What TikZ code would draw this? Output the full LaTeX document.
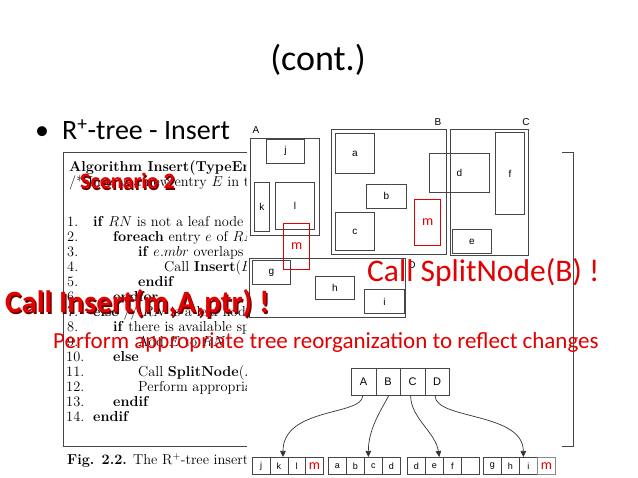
\documentclass[tikz,border=0pt]{standalone}
\usepackage{fontspec}
\newfontfamily\slidefont{Carlito}
\newfontfamily\diafont{Liberation Sans}
\usetikzlibrary{arrows.meta}
\definecolor{slidered}{RGB}{226,0,0}
\definecolor{shadowred}{RGB}{110,0,0}
\definecolor{linegray}{RGB}{70,70,70}
\tikzset{
  sbox/.style={draw=linegray, line width=0.8pt, inner sep=0pt, font=\diafont\fontsize{10}{10}\selectfont},
  mbox/.style={draw=slidered, line width=1.2pt, inner sep=0pt, text=slidered, font=\slidefont\fontsize{14}{14}\selectfont},
  dlabel/.style={inner sep=0pt, font=\diafont\fontsize{10}{10}\selectfont},
  rootcell/.style={draw=linegray, line width=0.8pt, inner sep=0pt, anchor=north west, minimum width=24.5pt, minimum height=27pt, font=\diafont\fontsize{11}{11}\selectfont},
  leafcell/.style={draw=linegray, line width=0.7pt, inner sep=0pt, anchor=north west, minimum width=18pt, minimum height=17pt, font=\diafont\fontsize{9}{9}\selectfont},
  redcell/.style={leafcell, text=slidered, font=\slidefont\fontsize{14}{14}\selectfont},
  algo/.style={anchor=base west, inner sep=0pt, font=\fontsize{14.4}{15}\selectfont},
  treearrow/.style={draw=black!80, line width=0.7pt, -{Triangle[length=6pt,width=5.5pt]}},
  redtext/.style={anchor=base west, inner sep=0pt, text=slidered},
  shadowtext/.style={anchor=base west, inner sep=0pt, text=shadowred},
}
\newcommand\rbox[7][sbox]{\node[#1,anchor=north west,minimum width={(#5-#3)*1pt},minimum height={(#6-#4)*1pt}] (#2) at (#3,#4) {#7};}
\begin{document}
\begin{tikzpicture}[x=1pt,y=-1pt]
\path[use as bounding box, fill=white] (0,0) rectangle (638,478);

% title and bullet
\node[anchor=base, inner sep=0pt, font=\slidefont\fontsize{36}{36}\selectfont] (title) at (318,71) {(cont.)};
\node[anchor=base, inner sep=0pt, font=\slidefont\fontsize{28}{28}\selectfont] (bul) at (42,140) {•};
\node[anchor=base west, inner sep=0pt, font=\slidefont\fontsize{28}{28}\selectfont] (btxt) at (62,140) {R\textsuperscript{+}-tree - Insert};

% algorithm frame
\draw[linegray, line width=1pt] (63,153) rectangle (573,447);

% algorithm text
\node[algo] (ah) at (69,172) {\textbf{Algorithm Insert(TypeEntry} $E$, \textbf{TypeNode} $RN$)};
\node[algo] (ac) at (69,187) {/* Inserts a new entry $E$ in the R-tree */};
\node[algo] (n1) at (67,227) {1.};  \node[algo] (l1) at (93,227) {\textbf{if} $RN$ is not a leaf node};
\node[algo] (n2) at (67,242) {2.};  \node[algo] (l2) at (113,242) {\textbf{foreach} entry $e$ of $RN$};
\node[algo] (n3) at (67,257) {3.};  \node[algo] (l3) at (138,257) {\textbf{if} $e.mbr$ overlaps with $E.mbr$};
\node[algo] (n4) at (67,272) {4.};  \node[algo] (l4) at (164,272) {Call \textbf{Insert}($E$, $e.ptr$)};
\node[algo] (n5) at (67,287) {5.};  \node[algo] (l5) at (138,287) {\textbf{endif}};
\node[algo] (n6) at (67,302) {6.};  \node[algo] (l6) at (113,302) {\textbf{endfor}};
\node[algo] (n7) at (67,317) {7.};  \node[algo] (l7) at (93,317) {\textbf{else} // $RN$ is a leaf node};
\node[algo] (n8) at (67,332) {8.};  \node[algo] (l8) at (113,332) {\textbf{if} there is available space in $RN$};
\node[algo] (n9) at (67,347) {9.};  \node[algo] (l9) at (138,347) {Add $E$ to $RN$};
\node[algo] (n10) at (66,362) {10.}; \node[algo] (l10) at (113,362) {\textbf{else}};
\node[algo] (n11) at (66,377) {11.}; \node[algo] (l11) at (138,377) {Call \textbf{SplitNode}($RN$)};
\node[algo] (n12) at (66,392) {12.}; \node[algo] (l12) at (138,392) {Perform appropriate tree reorganization};
\node[algo] (n13) at (66,407) {13.}; \node[algo] (l13) at (113,407) {\textbf{endif}};
\node[algo] (n14) at (66,422) {14.}; \node[algo] (l14) at (93,422) {\textbf{endif}};
\node[algo] (cap) at (67,465) {\textbf{Fig. 2.2.} The R$^+$-tree insertion algorithm.};

% the diagram picture covers the right part of the algorithm
\fill[white] (247,112) rectangle (562,478);

% spatial diagram
\node[dlabel] (labA) at (256,130) {A};
\node[dlabel] (labB) at (438,122) {B};
\node[dlabel] (labC) at (526,122) {C};
\node[dlabel] (labD) at (412,265) {D};
\rbox{rA}{250}{138}{319}{235}{}
\rbox{rj}{266}{139}{304}{163}{j}
\rbox{rk}{254}{182}{269}{231}{k}
\rbox{rl}{275}{182}{314}{229}{l}
\rbox[sbox, line width=1.1pt]{rB}{331}{129}{446}{254}{}
\rbox{ra}{335}{133}{374}{173}{a}
\rbox{rb}{366}{184}{406}{208}{b}
\rbox{rc}{335}{212}{374}{250}{c}
\rbox[sbox, line width=1.1pt]{rC}{450}{129}{528}{255}{}
\rbox{rd}{429}{153}{489}{192}{d}
\rbox{rf}{495}{132}{524}{214}{f}
\rbox{re}{452}{229}{491}{253}{e}
\rbox{rD}{249}{258}{405}{317}{}
\rbox{rg}{252}{260}{290}{284}{g}
\rbox{rh}{315}{276}{354}{299}{h}
\rbox{ri}{364}{289}{404}{313}{i}
\rbox[mbox]{rm1}{283}{223}{309}{269}{m}
\rbox[mbox]{rm2}{414}{199}{440}{245}{m}

% tree
\node[rootcell] (tA) at (351,368) {A};
\node[rootcell] (tB) at (375.5,368) {B};
\node[rootcell] (tC) at (400,368) {C};
\node[rootcell] (tD) at (424.5,368) {D};

\node[leafcell, minimum width=17.75pt] (lj) at (252,457) {j};
\node[leafcell, minimum width=17.75pt] (lk) at (269.75,457) {k};
\node[leafcell, minimum width=17.75pt] (ll) at (287.5,457) {l};
\node[redcell, minimum width=17.75pt] (lm) at (305.25,457) {m};

\node[leafcell] (la) at (328,457) {a};
\node[leafcell] (lb) at (346,457) {b};
\node[leafcell] (lc) at (364,457) {c};
\node[leafcell] (ld) at (382,457) {d};

\node[leafcell] (ld2) at (407,457) {d};
\node[leafcell] (le2) at (425,457) {e};
\node[leafcell] (lf2) at (443,457) {f};
\node[leafcell] (lx2) at (461,457) {};

\node[leafcell] (lg) at (483,457) {g};
\node[leafcell] (lh) at (501,457) {h};
\node[leafcell] (li) at (519,457) {i};
\node[redcell, draw=black!45] (lm2) at (537,457) {m};

\draw[treearrow] ([xshift=-1pt]tA.south) .. controls +(0,20) and +(0,-50) .. ([xshift=4pt]lk.north);
\draw[treearrow] ([xshift=0.5pt]tB.south) .. controls +(-8,15) and +(0,-28) .. ([xshift=-5pt]lc.north);
\draw[treearrow] ([xshift=-2pt]tC.south) .. controls +(0,22) and +(-4,-25) .. ([xshift=5pt]le2.north);
\draw[treearrow] ([xshift=-2pt]tD.south) .. controls +(0,24) and +(0,-45) .. ([xshift=-5pt]li.north);

% red overlay texts
\node[shadowtext, font=\slidefont\bfseries\fontsize{22}{22}\selectfont] (scs) at (81.2,190.2) {Scenario 2};
\node[redtext, font=\slidefont\bfseries\fontsize{22}{22}\selectfont] (sc) at (80,189) {Scenario 2};
\node[shadowtext, font=\slidefont\bfseries\fontsize{31}{31}\selectfont] (cis) at (6.5,314.5) {Call Insert(m,A,ptr) !};
\node[redtext, font=\slidefont\bfseries\fontsize{31}{31}\selectfont] (ci) at (5,313) {Call Insert(m,A,ptr) !};
\node[redtext, font=\slidefont\fontsize{31.5}{31.5}\selectfont] (cs) at (367,282) {Call SplitNode(B) !};
\node[redtext, font=\slidefont\fontsize{23}{23}\selectfont] (pf) at (53,349) {Perform appropriate tree reorganization to reflect changes};
\end{tikzpicture}
\end{document}
